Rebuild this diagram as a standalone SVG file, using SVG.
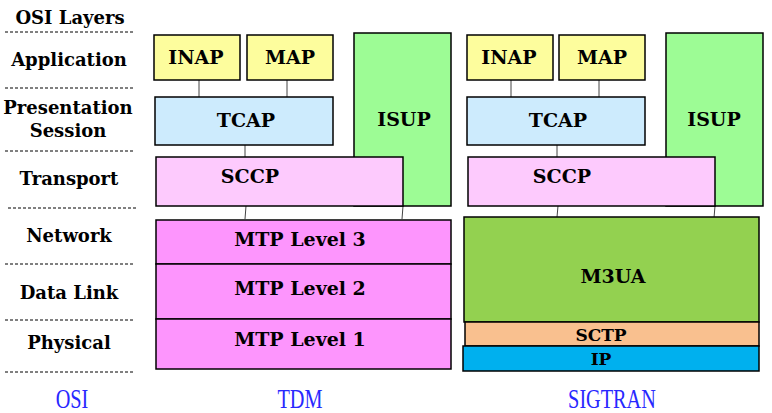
<svg xmlns="http://www.w3.org/2000/svg" width="772" height="413" viewBox="0 0 772 413">
<style>
.b{stroke:#000;stroke-width:1.5}
.t{font-family:"DejaVu Serif","Liberation Serif",serif;font-weight:bold;font-size:19px;text-anchor:middle;fill:#000}
.s{font-size:17px}
.l{font-family:"DejaVu Serif","Liberation Serif",serif;font-weight:bold;font-size:18px;text-anchor:middle;fill:#000}
.d{stroke:#000;stroke-width:1;stroke-dasharray:3,2}
.c{stroke:#444;stroke-width:1}
.f{font-family:"Liberation Serif",serif;font-size:27px;fill:#2828ff;text-anchor:middle}
</style>
<rect width="772" height="413" fill="#fff"/>
<g id="layers">
<text class="l" x="70" y="24">OSI Layers</text>
<text class="l" x="69" y="66">Application</text>
<text class="l" x="68" y="114">Presentation</text>
<text class="l" x="68" y="137">Session</text>
<text class="l" x="69" y="185">Transport</text>
<text class="l" x="69" y="242">Network</text>
<text class="l" x="69" y="299">Data Link</text>
<text class="l" x="69" y="349">Physical</text>
<line class="d" x1="5" y1="32" x2="133" y2="32"/>
<line class="d" x1="5" y1="88" x2="133" y2="88"/>
<line class="d" x1="5" y1="151" x2="133" y2="151"/>
<line class="d" x1="8" y1="208" x2="136" y2="208"/>
<line class="d" x1="5" y1="264" x2="133" y2="264"/>
<line class="d" x1="5" y1="320" x2="133" y2="320"/>
<line class="d" x1="5" y1="372" x2="133" y2="372"/>
</g>
<g id="connectors">
<line class="c" x1="199" y1="80" x2="199" y2="97"/>
<line class="c" x1="287" y1="80" x2="287" y2="97"/>
<line class="c" x1="245" y1="145" x2="245" y2="157"/>
<line class="c" x1="246" y1="206" x2="245" y2="219"/>
<line class="c" x1="403" y1="206" x2="402" y2="219"/>
<line class="c" x1="511" y1="80" x2="511" y2="97"/>
<line class="c" x1="599" y1="80" x2="599" y2="97"/>
<line class="c" x1="557" y1="145" x2="557" y2="157"/>
<line class="c" x1="558" y1="206" x2="557" y2="217"/>
<line class="c" x1="715" y1="206" x2="714" y2="218"/>
</g>
<g id="tdm-isup"><rect class="b" x="354" y="33" width="97" height="173" fill="#9dfc95"/><text class="t" x="404" y="126">ISUP</text></g>
<g id="tdm-inap"><rect class="b" x="154" y="35" width="86" height="45" fill="#fdfd9d"/><text class="t" x="196" y="64">INAP</text></g>
<g id="tdm-map"><rect class="b" x="247" y="35" width="86" height="45" fill="#fdfd9d"/><text class="t" x="290" y="64">MAP</text></g>
<g id="tdm-tcap"><rect class="b" x="155" y="97" width="178" height="48" fill="#cdebfd"/><text class="t" x="246" y="127">TCAP</text></g>
<g id="tdm-sccp"><rect class="b" x="156" y="157" width="247" height="49" fill="#fdcafd"/><text class="t" x="250" y="183">SCCP</text></g>
<g id="mtp3"><rect class="b" x="156" y="220" width="295" height="44" fill="#fd95fd"/><text class="t" x="300" y="246">MTP Level 3</text></g>
<g id="mtp2"><rect class="b" x="156" y="264" width="295" height="55" fill="#fd95fd"/><text class="t" x="300" y="295">MTP Level 2</text></g>
<g id="mtp1"><rect class="b" x="156" y="319" width="295" height="50" fill="#fd95fd"/><text class="t" x="300" y="346">MTP Level 1</text></g>
<g id="sig-isup"><rect class="b" x="666" y="33" width="97" height="173" fill="#9dfc95"/><text class="t" x="714" y="126">ISUP</text></g>
<g id="sig-inap"><rect class="b" x="467" y="35" width="86" height="45" fill="#fdfd9d"/><text class="t" x="509" y="64">INAP</text></g>
<g id="sig-map"><rect class="b" x="559" y="35" width="86" height="45" fill="#fdfd9d"/><text class="t" x="602" y="64">MAP</text></g>
<g id="sig-tcap"><rect class="b" x="467" y="97" width="178" height="48" fill="#cdebfd"/><text class="t" x="558" y="127">TCAP</text></g>
<g id="sig-sccp"><rect class="b" x="468" y="157" width="247" height="49" fill="#fdcafd"/><text class="t" x="562" y="183">SCCP</text></g>
<g id="m3ua"><rect class="b" x="464" y="217" width="295" height="105" fill="#93d150"/><text class="t" x="613" y="283">M3UA</text></g>
<g id="sctp"><rect class="b" x="465" y="322" width="294" height="24" fill="#f9c08f"/><text class="t s" x="601" y="341">SCTP</text></g>
<g id="ip"><rect class="b" x="463" y="346" width="296" height="25" fill="#00b0ee"/><text class="t s" x="601" y="365">IP</text></g>
<g id="footer">
<text class="f" x="72" y="408" transform="translate(72 0) scale(0.75 1) translate(-72 0)">OSI</text>
<text class="f" x="300" y="408" transform="translate(300 0) scale(0.75 1) translate(-300 0)">TDM</text>
<text class="f" x="612" y="408" transform="translate(612 0) scale(0.75 1) translate(-612 0)">SIGTRAN</text>
</g>
</svg>
